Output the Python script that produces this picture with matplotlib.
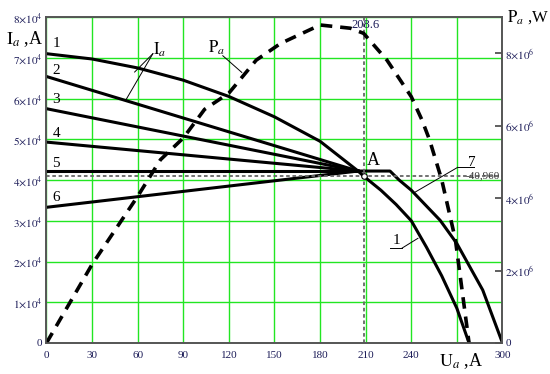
import matplotlib
matplotlib.use("Agg")
import matplotlib.pyplot as plt

plt.rcParams['font.family'] = ['Liberation Serif', 'DejaVu Serif']
plt.rcParams['mathtext.fontset'] = 'stix'

# ---- data ----
u_ticks = [0, 30, 60, 90, 120, 150, 180, 210, 240, 270, 300]
u_tick_labels = ['0', '30', '60', '90', '120', '150', '180', '210', '240', '', '300']

# curve 1 (I_a, A)
c1_u = [0, 30, 60, 90, 120, 150, 180, 205, 208.6, 220, 230, 240, 250, 260, 270, 278]
c1_i = [7.1e4, 6.97e4, 6.75e4, 6.45e4, 6.05e4, 5.55e4, 4.95e4, 4.22e4, 4.096e4,
        3.75e4, 3.4e4, 3.0e4, 2.35e4, 1.65e4, 0.85e4, 0]
# straight lines 2..6 to point A
a_u, a_i = 205, 4.22e4
c2_i0 = 6.54e4
c3_i0 = 5.75e4
c4_i0 = 4.93e4
c5_i0 = 4.22e4
c6_i0 = 3.33e4
# curve 7
c7_u = [205, 226, 232, 240, 259, 270, 287, 300]
c7_i = [4.22e4, 4.22e4, 4.0e4, 3.75e4, 3.01e4, 2.44e4, 1.3e4, 0]
# power P_a, W
p_u = [0, 30, 60, 75, 90, 104, 120, 138, 154, 180, 200, 208.6, 224, 240, 247, 252, 260, 269, 278]
p_w = [0, 2.17e6, 4.05e6, 5.06e6, 5.66e6, 6.45e6, 6.9e6, 7.81e6, 8.27e6, 8.78e6, 8.69e6,
       8.55e6, 7.81e6, 6.8e6, 6.16e6, 5.61e6, 4.51e6, 2.86e6, 0]
u_mp = 208.6
i_mp = 40960

tick_color = '#1c1c58'
grid_color = '#22e622'

fig = plt.figure(figsize=(5.5, 3.74), dpi=100)
ax = fig.add_axes([0.0845, 0.0829, 0.8291, 0.8716])
ax.set_xlim(0, 300)
ax.set_ylim(0, 8e4)
ax.set_xticks(u_ticks)
ax.set_xticklabels(u_tick_labels)
yt = [0, 1e4, 2e4, 3e4, 4e4, 5e4, 6e4, 7e4, 8e4]
ax.set_yticks(yt)
ax.set_yticklabels(['0'] + [r'$%d{\times}10^{4}$' % k for k in range(1, 9)])
ax.grid(True, color=grid_color, linewidth=1.0)
ax.set_axisbelow(True)
ax.tick_params(axis='both', length=0, labelsize=8, colors=tick_color, pad=3)
ax.tick_params(axis='x', pad=6)
for s in ax.spines.values():
    s.set_color('#555555')
    s.set_linewidth(1.2)

lw = 2.2
ax.plot(c1_u, c1_i, color='black', lw=lw, solid_joinstyle='round')
for i0 in [c2_i0, c3_i0, c4_i0, c5_i0, c6_i0]:
    ax.plot([0, a_u], [i0, a_i], color='black', lw=lw)
ax.plot(c7_u, c7_i, color='black', lw=lw, solid_joinstyle='round')

ax.axhline(i_mp, color='#666666', lw=1.3, ls=(0, (2, 1.5)))
ax.axvline(u_mp, color='#666666', lw=1.3, ls=(0, (2, 1.5)))
ax.plot([u_mp], [i_mp], marker='o', ms=4, mfc='white', mec='black', mew=0.8, zorder=6)

ax2 = ax.twinx()
ax2.set_ylim(0, 9e6)
ax2.set_yticks([0, 2e6, 4e6, 6e6, 8e6])
ax2.set_yticklabels(['0'] + [r'$%d{\times}10^{6}$' % k for k in (2, 4, 6, 8)])
ax2.tick_params(axis='y', direction='in', length=5, width=1.2, color='#444444',
                labelsize=8, labelcolor=tick_color, pad=2)
for s in ax2.spines.values():
    s.set_color('#555555')
    s.set_linewidth(1.2)
ax2.plot(p_u, p_w, color='black', lw=2.6, ls=(0, (3.2, 2.2)))

tkw = dict(fontsize=11, color='black')
for lab, y in [('1', 7.35e4), ('2', 6.69e4), ('3', 5.98e4), ('4', 5.15e4), ('5', 4.41e4), ('6', 3.58e4)]:
    ax.text(4, y, lab, ha='left', va='center', **tkw)

ax.text(70, 7.2e4, r'$\mathrm{I}_{a}$', fontsize=12, ha='left', va='center')
ax.plot([70, 58], [7.1e4, 6.65e4], color='black', lw=0.7)
ax.plot([70, 52], [7.1e4, 5.95e4], color='black', lw=0.7)

ax.text(106, 7.25e4, r'$\mathrm{P}_{a}$', fontsize=12, ha='left', va='center')
ax.plot([116, 128.5], [7.05e4, 6.64e4], color='black', lw=0.7)

ax.text(211, 4.49e4, 'A', fontsize=13, ha='left', va='center')
ax.text(277, 4.44e4, '7', fontsize=11, ha='left', va='center')
ax.plot([270.5, 281], [4.31e4, 4.31e4], color='black', lw=0.7)
ax.plot([270.5, 242.4], [4.31e4, 3.7e4], color='black', lw=0.7)

ax.text(228, 2.52e4, '1', fontsize=11, ha='left', va='center')
ax.plot([226, 234], [2.33e4, 2.33e4], color='black', lw=0.7)
ax.plot([234, 244.4], [2.33e4, 2.57e4], color='black', lw=0.7)

ax.text(u_mp + 1, 7.8e4, '208.6', fontsize=9, color=tick_color, ha='center', va='center')
ax.text(298, i_mp, '-40,960', fontsize=8, color='#333333', ha='right', va='center')

fig.text(0.01, 0.895, r'$\mathrm{I}_{a}$ ,A', fontsize=13, ha='left', va='center')
fig.text(0.921, 0.953, r'$\mathrm{P}_{a}$ ,W', fontsize=12, ha='left', va='center')
ax.text(273, -0.024, r'$\mathrm{U}_{a}$ ,A', transform=ax.get_xaxis_transform(),
        fontsize=13, ha='center', va='top')

fig.savefig('out.png', dpi=100)
